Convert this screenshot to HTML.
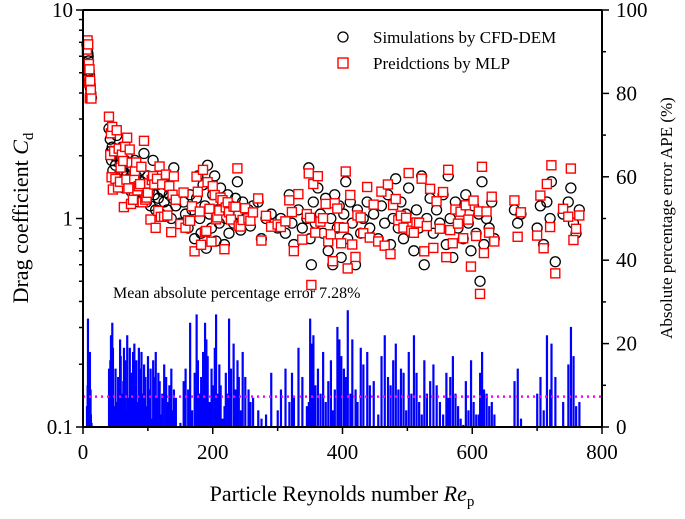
<!DOCTYPE html>
<html><head><meta charset="utf-8"><style>
body{margin:0;background:#fff;}
svg text{font-family:"Liberation Serif",serif;fill:#000;}
</style></head><body>
<svg id="chart" width="685" height="514" viewBox="0 0 685 514" xmlns="http://www.w3.org/2000/svg">
<g id="bars"></g>
<g id="pts"></g>
<g id="axes"></g>
</svg>
<script>
const reVals=[6,7,7.5,8,8.5,9,9.5,10,10.5,11,11.5,12,13,
40,42,43,44,45,46,48,50,52,54,55,57,58,60,62,63,65,67,68,70,72,74,75,77,79,80,82,84,86,88,90,92,94,96,98,100,102,104,106,108,110,112,114,116,118,120,122,125,128,130,133,136,138,140,143,
150,155,158,162,165,168,172,175,177,180,182,185,188,190,192,195,198,200,203,205,207,210,212,215,218,220,223,225,228,232,235,238,240,243,246,250,255,258,262,270,275,282,290,
300,305,312,318,322,325,332,338,345,348,350,352,355,358,362,366,370,374,378,382,385,388,392,395,398,402,405,408,412,415,420,423,428,432,438,442,448,
455,460,465,470,474,478,482,486,490,494,498,502,506,510,514,518,522,526,530,535,540,545,550,555,560,563,566,570,574,578,582,586,590,594,598,602,606,610,612,615,618,622,626,630,634,
665,670,675,700,705,710,715,720,722,728,740,748,752,756,760,765];
const cdSim=[6.8,6.5,6.2,6.0,5.7,5.4,5.1,4.9,4.6,4.4,4.2,4.0,3.8,
2.7,2.4,2.1,1.9,2.2,1.7,2.0,1.8,2.5,1.6,2.1,1.9,1.5,2.2,1.7,1.4,1.9,1.6,2.0,1.5,1.8,1.35,1.7,1.5,1.3,1.9,1.6,1.45,1.2,1.7,1.5,1.3,2.05,1.4,1.2,1.6,1.35,1.15,1.5,1.9,1.3,1.1,1.45,1.25,1.6,1.05,1.35,1.2,1.45,1.1,1.3,1.0,1.25,1.75,1.15,
0.95,1.2,1.05,0.9,1.3,1.1,0.8,1.25,1.6,1.0,0.85,1.45,1.15,0.72,1.8,1.05,0.9,1.3,1.6,0.78,1.1,0.95,1.4,1.2,0.75,1.0,1.3,0.85,1.15,0.95,1.25,1.5,1.05,0.88,1.2,1.0,1.1,0.92,1.15,1.2,0.8,1.0,1.05,
0.9,1.0,0.85,1.3,0.95,0.75,1.1,0.9,1.0,1.75,0.8,0.6,1.2,0.95,1.4,1.05,0.85,1.25,0.7,1.0,0.6,1.3,0.9,1.15,0.65,1.05,1.5,0.8,1.2,0.95,0.6,1.1,0.85,1.0,1.2,0.9,1.05,
0.8,1.15,0.95,1.3,0.75,1.0,1.55,0.9,1.2,0.8,1.05,1.4,0.95,0.7,1.1,0.9,1.6,0.6,1.0,1.25,0.85,1.1,0.95,1.3,0.75,1.6,1.0,0.65,1.2,0.9,1.1,0.8,1.3,0.95,0.7,1.15,0.85,1.05,0.5,1.5,0.75,1.0,0.9,1.2,0.8,
1.1,0.95,1.05,0.9,1.15,0.75,1.2,1.0,1.5,0.62,1.05,1.2,1.4,0.95,0.85,1.1];
const apeVals=[5,10,26,14,8,2,12,6,18,4,9,3,1,
14,16,22,17,25,19,5,14,6,12,3,21,17,8,11,19,16,4,22,7,19,13,9,18,20,11,16,6,19,14,18,8,15,12,5,17,9,14,2,16,12,18,7,13,11,3,8,15,12,6,10,14,4,9,7,
1,11,14,9,25,4,13,27,16,8,12,18,25,21,17,6,14,10,19,27,8,15,10,2,5,13,8,26,14,20,9,16,12,4,18,12,9,6,7,4,2,3,13,
4,9,14,6,13,7,19,12,5,6,26,20,22,10,14,8,18,6,11,16,4,9,24,21,17,14,12,28,8,21,9,6,19,15,18,10,11,
3,17,22,12,10,16,20,9,14,13,4,18,8,22,13,6,3,16,8,11,15,10,6,3,13,7,12,17,8,5,2,0.5,11,4,16,6,3,3,13,18,9,8,5,6,3,
11,14,2,8,12,4,22,9,20,12,6,15,24,17,5,6];
const meanApe=7.28;
const xTicks=[0,200,400,600,800];
const yLeftTicks=[0.1,1,10];
const yRightTicks=[0,20,40,60,80,100];

const L=83,R=602,T=10,B=427;
const NS="http://www.w3.org/2000/svg";
const xs=v=>L+v/800*(R-L);
const yl=v=>B-(Math.log10(v)+1)/2*(B-T);
const yr=v=>B-v/100*(B-T);
function mk(tag,attrs,parent){const e=document.createElementNS(NS,tag);for(const k in attrs)e.setAttribute(k,attrs[k]);parent.appendChild(e);return e;}
const bars=document.getElementById('bars'),pts=document.getElementById('pts'),axes=document.getElementById('axes');

reVals.forEach((r,i)=>{
  const b=mk('rect',{x:xs(r)-1,y:yr(apeVals[i]),width:2.2,height:B-yr(apeVals[i]),fill:'#0000ff'},bars);
  
  
});
const ml=mk('line',{x1:L,x2:R,y1:yr(meanApe),y2:yr(meanApe),stroke:'#ff00ff','stroke-width':2.5,'stroke-dasharray':'2 4'},bars);



reVals.forEach((r,i)=>{
  const c=mk('circle',{cx:xs(r),cy:yl(cdSim[i]),r:5,fill:'none',stroke:'#000','stroke-width':1.3},pts);
  
  
});
reVals.forEach((r,i)=>{
  const p=cdSim[i]*(1+(i%2?1:-1)*apeVals[i]/100);
  const s=mk('rect',{x:xs(r)-4.5,y:yl(p)-4.5,width:9,height:9,fill:'#fff',stroke:'#ff0000','stroke-width':1.4},pts);
  
  
});

mk('line',{x1:L,x2:R,y1:T,y2:T,stroke:'#000','stroke-width':2},axes);
mk('line',{x1:L,x2:R,y1:B,y2:B,stroke:'#000','stroke-width':2},axes);
mk('line',{x1:L,x2:L,y1:T,y2:B,stroke:'#000','stroke-width':2},axes);
mk('line',{x1:R,x2:R,y1:T,y2:B,stroke:'#000','stroke-width':2},axes);
for(let v=0;v<=800;v+=100){mk('line',{x1:xs(v),x2:xs(v),y1:B,y2:B+(v%200?4:7),stroke:'#000','stroke-width':1.5},axes);}
xTicks.forEach(v=>{const t=mk('text',{x:xs(v),y:B+32,'text-anchor':'middle','font-size':21},axes);t.textContent=v;
});
for(let d=0.1;d<10;d*=10){for(let m=1;m<10;m++){const v=d*m;mk('line',{x1:L,x2:L-(m==1?7:4),y1:yl(v),y2:yl(v),stroke:'#000','stroke-width':1.5},axes);}}
mk('line',{x1:L,x2:L-7,y1:yl(10),y2:yl(10),stroke:'#000','stroke-width':1.5},axes);
yLeftTicks.forEach(v=>{const t=mk('text',{x:L-10,y:yl(v)+7,'text-anchor':'end','font-size':21},axes);t.textContent=v;
});
for(let v=0;v<=100;v+=10){mk('line',{x1:R,x2:R+(v%20?4:7),y1:yr(v),y2:yr(v),stroke:'#000','stroke-width':1.5},axes);}
yRightTicks.forEach(v=>{const t=mk('text',{x:R+14,y:yr(v)+7,'text-anchor':'start','font-size':21},axes);t.textContent=v;
});
</script>
<svg width="685" height="514" style="position:absolute;left:0;top:0" xmlns="http://www.w3.org/2000/svg">
<text x="342" y="501" text-anchor="middle" font-size="22">Particle Reynolds number <tspan font-style="italic">Re</tspan><tspan font-size="15" dy="5">p</tspan></text>
<text transform="translate(28,218) rotate(-90)" text-anchor="middle" font-size="22">Drag coefficient <tspan font-style="italic">C</tspan><tspan font-size="15" dy="5">d</tspan></text>
<text transform="translate(672,218) rotate(-90)" text-anchor="middle" font-size="17">Absolute percentage error APE (%)</text>
<text x="113" y="298" font-size="16">Mean absolute percentage error 7.28%</text>
<g>
<circle cx="343" cy="37" r="5" fill="none" stroke="#000" stroke-width="1.3"/>
<text x="373" y="43" font-size="17">Simulations by CFD-DEM</text>
<rect x="338" y="58" width="10" height="10" fill="#fff" stroke="#ff0000" stroke-width="1.4"/>
<text x="373" y="69" font-size="17">Preidctions by MLP</text>
</g>
</svg>
</body></html>
